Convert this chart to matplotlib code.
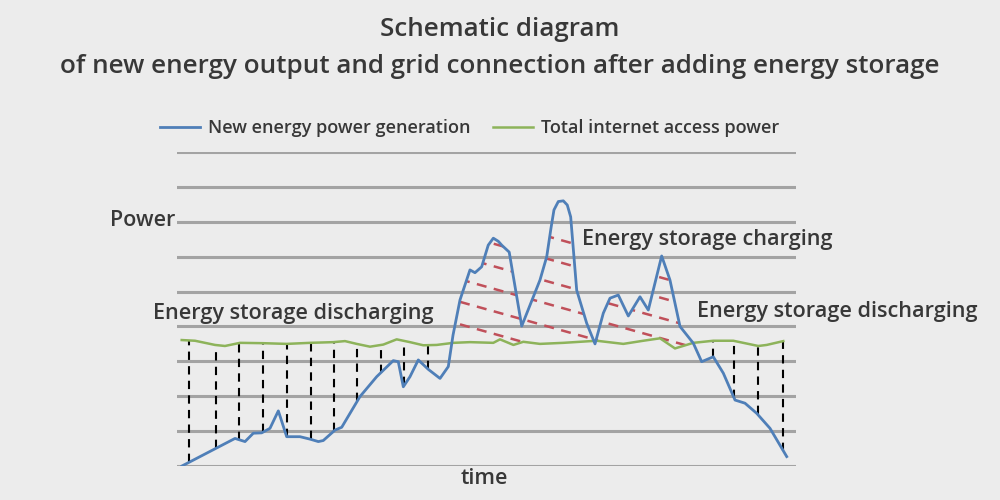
import numpy as np
import matplotlib
matplotlib.use("Agg")
import matplotlib.pyplot as plt
from matplotlib.path import Path
from matplotlib.patches import PathPatch

plt.rcParams['font.family'] = ['Open Sans', 'DejaVu Sans']
plt.rcParams['font.weight'] = 'semibold'

# ---- data (time in arbitrary units 0-100, power in grid units 0-9) ----
gen_t = [0.8, 9.37, 10.99, 12.33, 13.68, 15.02, 16.37, 17.72, 19.87, 21.49, 22.83, 23.63,
         25.53, 26.61, 29.56, 32.26, 34.94, 35.75, 36.56, 37.64, 38.98, 40.60, 42.49, 43.83,
         44.59, 45.72, 47.33, 48.14, 49.22, 50.28, 51.10, 51.91, 52.46, 53.67, 54.07, 55.69,
         58.64, 59.73, 60.42, 60.90, 61.60, 62.41, 63.05, 63.60, 64.57, 66.19, 67.53, 68.87,
         69.95, 71.29, 72.91, 74.80, 76.14, 78.30, 79.64, 81.26, 83.41, 84.76, 86.64, 88.26,
         90.15, 91.76, 93.65, 95.80, 98.50]
gen_p = [0.0, 0.79, 0.70, 0.94, 0.95, 1.08, 1.58, 0.84, 0.84, 0.77, 0.70, 0.73,
         1.03, 1.11, 1.99, 2.56, 3.02, 2.99, 2.27, 2.56, 3.04, 2.77, 2.51, 2.85,
         3.75, 4.76, 5.62, 5.54, 5.71, 6.33, 6.53, 6.44, 6.33, 6.13, 5.71, 4.01,
         5.33, 6.00, 6.82, 7.34, 7.58, 7.60, 7.48, 7.14, 5.04, 4.09, 3.50, 4.38,
         4.81, 4.90, 4.30, 4.85, 4.47, 6.02, 5.33, 4.00, 3.52, 2.99, 3.13, 2.66,
         1.89, 1.80, 1.51, 1.08, 0.27]

grid_t = [0.76, 2.91, 6.14, 7.75, 10.18, 13.94, 17.72, 21.49, 25.25, 27.14, 29.03, 31.18,
          33.33, 35.49, 37.64, 39.79, 41.95, 44.64, 47.33, 51.10, 52.18, 54.35, 55.95, 58.64,
          62.41, 65.10, 67.80, 72.10, 75.33, 78.03, 80.45, 83.41, 86.64, 89.87, 93.91, 95.27,
          97.95]
grid_p = [3.61, 3.59, 3.47, 3.44, 3.53, 3.52, 3.50, 3.53, 3.55, 3.58, 3.50, 3.42,
          3.48, 3.63, 3.55, 3.46, 3.47, 3.53, 3.55, 3.53, 3.63, 3.47, 3.56, 3.50,
          3.53, 3.56, 3.59, 3.50, 3.59, 3.66, 3.37, 3.53, 3.59, 3.59, 3.44, 3.47,
          3.58]

discharge_t = [1.99, 6.25, 10.06, 13.94, 17.72, 21.60, 25.36, 29.13, 32.91, 36.72, 40.60,
               86.64, 89.98, 93.81, 97.95]

# charging hatch families: (t_start, t_end, base offset at t_ref, t_ref, spacing, count)
hatch_sets = [(43.0, 68.0, 3.98, 47.33, 0.645, 6),
              (67.0, 84.0, 3.71, 77.2, 0.58, 4)]
hatch_slope = -0.0497

legend_labels = ["New energy power generation", "Total internet access power"]

BG = '#ececec'
TXT = '#383838'
BLUE = '#4f7fb8'
GREEN = '#8db35a'
RED = '#c0505a'

fig = plt.figure(figsize=(10, 5), dpi=100, facecolor=BG)
ax = fig.add_axes([0.177, 0.068, 0.619, 0.628])
ax.set_facecolor(BG)
ax.set_xlim(0, 100)
ax.set_ylim(0, 9)
for s in ax.spines.values():
    s.set_visible(False)
ax.set_yticks(range(10))
ax.set_xticks([])
ax.tick_params(left=False, labelleft=False)
ax.grid(axis='y', color='#a3a3a3', lw=2.2, zorder=0)
ax.set_axisbelow(True)

gt = np.array(gen_t); gp = np.array(gen_p)
nt = np.array(grid_t); npw = np.array(grid_p)

# discharging dashed verticals
for t in discharge_t:
    top = np.interp(t, nt, npw)
    bot = np.interp(t, gt, gp)
    ax.plot([t, t], [bot, top], color='black', lw=1.5, ls=(0, (4, 3)), zorder=2)

# charging region (generation above grid power)
tt = np.linspace(gt[0], gt[-1], 2000)
gi = np.interp(tt, gt, gp)
ni = np.interp(tt, nt, npw)
fb = ax.fill_between(tt, ni, gi, where=gi > ni, interpolate=True,
                     facecolor='none', edgecolor='none', zorder=1)
clip = Path.make_compound_path(*fb.get_paths())
patch = PathPatch(clip, transform=ax.transData, facecolor='none', edgecolor='none')
ax.add_patch(patch)
for t0, t1, base, tref, sp, n in hatch_sets:
    xs = np.array([t0, t1])
    for k in range(n):
        ys = base + k * sp + hatch_slope * (xs - tref)
        ln, = ax.plot(xs, ys, color=RED, lw=1.8, ls=(0, (4, 3)), zorder=2)
        ln.set_clip_path(patch)

l2, = ax.plot(nt, npw, color=GREEN, lw=1.8, zorder=3, label=legend_labels[1])
l1, = ax.plot(gt, gp, color=BLUE, lw=2.0, zorder=4, label=legend_labels[0],
              solid_joinstyle='round')

fig.legend(handles=[l1, l2], loc='center left', bbox_to_anchor=(0.144, 0.744),
           ncol=2, frameon=False, fontsize=13, handlelength=2.2, handletextpad=0.45,
           columnspacing=1.25, labelcolor=TXT)

fig.text(0.5, 0.940, "Schematic diagram", ha='center', va='center', fontsize=18.7, color=TXT)
fig.text(0.5, 0.867, "of new energy output and grid connection after adding energy storage",
         ha='center', va='center', fontsize=18.7, color=TXT)
fig.text(0.175, 0.558, "Power", ha='right', va='center', fontsize=15.5, color=TXT)
fig.text(0.153, 0.372, "Energy storage discharging", ha='left', va='center', fontsize=15.6, color=TXT)
fig.text(0.582, 0.522, "Energy storage charging", ha='left', va='center', fontsize=15.6, color=TXT)
fig.text(0.697, 0.378, "Energy storage discharging", ha='left', va='center', fontsize=15.6, color=TXT)
fig.text(0.484, 0.042, "time", ha='center', va='center', fontsize=15.5, color=TXT)

fig.savefig("out.png", dpi=100, facecolor=BG)
